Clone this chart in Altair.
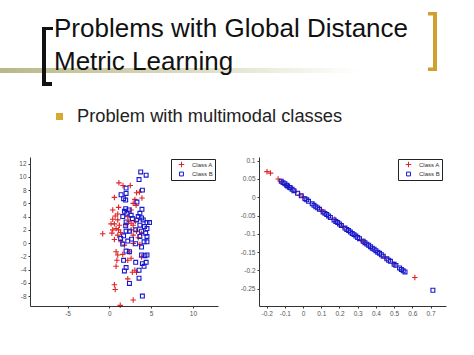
import altair as alt
import pandas as pd

# ---------------- data ----------------
classes = ["Class A", "Class B"]

left_xA = [1.14, 1.63, 2.5, 0.6, 3.25, 3.6, 3.05, 3.9, 1.1, 0.4, 2.85, 3.2, 1.0, 0.7, 0.4, 0.2, 0.6, 1.2, 0.8, 1.1,
           -0.8, 0.3, 0.6, 1.0, 1.4, 2.85, 2.6, 3.1, 2.0, 2.6, 3.25, 2.85, 3.45, 2.85, 0.8, 1.6, 1.0, 2.4, 2.2, 2.6,
           0.9, 3.05, 3.25, 2.75, 0.8, 2.2, 0.6, 0.7, 2.85, 1.3, 3.85, 3.65, 1.8, 3.85, 0.4, 2.2, 2.6, 2.35, 1.0, 1.35]
left_yA = [9.1, 8.7, 8.7, 6.9, 7.6, 7.7, 6.6, 6.8, 5.4, 5.0, 6.0, 5.7, 4.4, 4.1, 3.6, 2.9, 2.9, 2.7, 2.2, 2.0,
           1.4, 1.5, 0.55, 1.2, 0.2, 2.7, 3.0, 3.3, 2.8, 2.0, 1.8, 1.2, 0.8, -0.05, -1.3, -1.7, -1.8, -1.3, -2.6, -2.3,
           -2.6, -4.1, -4.4, -4.4, -3.5, -5.4, -6.3, -7.0, -8.6, -9.4, -2.1, -0.2, -0.3, 1.5, 2.0, 4.0, 5.0, 3.3, 3.5, 1.6]
left_xB = [3.75, 4.4, 3.55, 2.0, 2.0, 1.4, 1.7, 1.95, 3.95, 3.3, 3.9, 1.95, 2.35, 1.8, 2.1, 1.6, 2.6, 3.65, 3.25, 3.85,
           4.05, 4.5, 4.8, 2.0, 1.95, 3.65, 4.2, 4.5, 2.0, 2.4, 3.15, 3.85, 1.7, 4.35, 4.5, 3.65, 2.65, 2.2, 3.15, 4.15,
           4.5, 1.6, 3.85, 2.0, 2.4, 3.85, 4.25, 4.5, 1.7, 3.15, 3.95, 4.4, 4.15, 2.0, 1.8, 3.55, 2.4, 3.55, 3.95, 1.35,
           2.75, 3.45]
left_yB = [10.75, 10.25, 9.6, 8.3, 7.5, 7.3, 6.7, 6.5, 8.0, 6.2, 5.1, 5.2, 5.0, 4.8, 4.5, 4.0, 4.2, 4.5, 3.5, 3.8,
           3.5, 3.1, 3.1, 3.2, 2.6, 2.7, 2.5, 2.2, 1.8, 1.8, 2.0, 1.8, 1.1, 1.5, 1.0, 1.0, 0.6, 0.3, -0.1, 0.2,
           0.2, -0.15, -0.6, -1.2, -1.3, -1.8, -1.9, -1.8, -2.6, -2.9, -3.1, -2.9, -3.5, -3.7, -4.2, -4.1, -6.1, -5.3, -8.0, 0.7,
           3.7, 4.0]

right_xA = [-0.198, -0.179, -0.137, -0.119, -0.09, -0.04, -0.018, 0.0, 0.1, 0.105, 0.174, 0.2, 0.22, 0.32, 0.33,
            0.45, 0.5, 0.614]
right_yA = [0.07, 0.066, 0.05, 0.043, 0.033, 0.015, 0.006, 0.001, -0.035, -0.039, -0.06, -0.073, -0.08, -0.117, -0.12,
            -0.164, -0.182, -0.219]
right_xB = [-0.12, -0.11, -0.1, -0.09, -0.085, -0.075, -0.07, -0.06, -0.05, -0.03, -0.01, 0.01, 0.02, 0.03, 0.05,
            0.06, 0.07, 0.08, 0.09, 0.11, 0.12, 0.13, 0.14, 0.15, 0.17, 0.18, 0.19, 0.2, 0.21, 0.23, 0.24, 0.25,
            0.26, 0.27, 0.28, 0.29, 0.3, 0.31, 0.33, 0.34, 0.35, 0.36, 0.37, 0.38, 0.39, 0.4, 0.41, 0.42, 0.43,
            0.44, 0.46, 0.47, 0.48, 0.5, 0.51, 0.53, 0.54, 0.55, 0.56, 0.713]
right_yB = [0.044, 0.040, 0.037, 0.033, 0.031, 0.027, 0.026, 0.022, 0.018, 0.011, 0.004, -0.004, -0.007, -0.011,
            -0.018, -0.022, -0.026, -0.029, -0.033, -0.040, -0.044, -0.047, -0.051, -0.055, -0.062, -0.066, -0.069,
            -0.073, -0.077, -0.084, -0.088, -0.091, -0.095, -0.099, -0.102, -0.106, -0.110, -0.113, -0.120, -0.124,
            -0.128, -0.131, -0.135, -0.139, -0.142, -0.146, -0.150, -0.153, -0.157, -0.161, -0.168, -0.172, -0.175,
            -0.183, -0.186, -0.193, -0.197, -0.201, -0.204, -0.254]

left_xticks = [-5, 0, 5, 10]
left_yticks = [-8, -6, -4, -2, 0, 2, 4, 6, 8, 10, 12]
right_xticks = [-0.2, -0.1, 0, 0.1, 0.2, 0.3, 0.4, 0.5, 0.6, 0.7]
right_yticks = [-0.25, -0.2, -0.15, -0.1, -0.05, 0, 0.05, 0.1]

title_lines = ["Problems with Global Distance", "Metric Learning"]
bullet_text = "Problem with multimodal classes"

# ---------------- helpers ----------------
OX, OY = 30, 157  # left plot origin on the page
FONT = "Liberation Sans"
dummy = pd.DataFrame({"d": [0]})
GOLD = "#CFA02E"


def box(x1, x2, y1, y2, color):
    return alt.Chart(dummy).mark_rect(color=color).encode(
        x=alt.value(x1 - OX), x2=alt.value(x2 - OX),
        y=alt.value(y1 - OY), y2=alt.value(y2 - OY))


def label(x, y, txt, size, color):
    return alt.Chart(dummy).mark_text(
        align="left", baseline="alphabetic", font=FONT, fontSize=size, color=color
    ).encode(x=alt.value(x - OX), y=alt.value(y - OY), text=alt.value(txt))


def frame(xs_a, ys_a, xs_b, ys_b):
    return pd.DataFrame({
        "x": xs_a + xs_b,
        "y": ys_a + ys_b,
        "cls": [classes[0]] * len(xs_a) + [classes[1]] * len(xs_b),
    })


PLUS = "M-1,0L1,0M0,-1L0,1"


def make_legend(lx, ly):
    return alt.Legend(title=None, orient="none", legendX=lx, legendY=ly, fillColor="white",
                      strokeColor="#222", padding=2, labelFontSize=6, labelFont=FONT, labelColor="#333",
                      symbolSize=14, symbolStrokeWidth=1, rowPadding=0, labelOffset=7, symbolOffset=5,
                      cornerRadius=0, labelLimit=60)


ax_style = dict(domainColor="#333", tickColor="#333", labelColor="#555", labelFontSize=6.5, labelFont=FONT,
                tickSize=2, labelPadding=2, grid=False, title=None, domainWidth=1, zindex=2)


def points(df, xdom, ydom, xt, yt, lg):
    return alt.Chart(df).mark_point(filled=False, strokeWidth=1.1, opacity=1).encode(
        x=alt.X("x:Q", scale=alt.Scale(domain=xdom, nice=False, zero=False),
                axis=alt.Axis(values=xt, labelExpr="'' + datum.value", **ax_style)),
        y=alt.Y("y:Q", scale=alt.Scale(domain=ydom, nice=False, zero=False),
                axis=alt.Axis(values=yt, labelExpr="'' + datum.value", **ax_style)),
        color=alt.Color("cls:N", scale=alt.Scale(domain=classes, range=["#E02424", "#1818CC"]), legend=lg),
        shape=alt.Shape("cls:N", scale=alt.Scale(domain=classes, range=[PLUS, "square"]), legend=lg),
        size=alt.Size("cls:N", scale=alt.Scale(domain=classes, range=[30, 15]), legend=None),
    )


# ---------------- header (drawn in the left panel's coordinates) ----------------
grad = alt.LinearGradient(
    gradient="linear",
    stops=[alt.GradientStop(color="#B8B88A", offset=0),
           alt.GradientStop(color="#D6D6B8", offset=0.45),
           alt.GradientStop(color="#FFFFFF", offset=1)],
    x1=0, x2=1, y1=0, y2=0)

background = box(0, 474, 0, 355, "white")
bar = alt.Chart(dummy).mark_rect(color=grad).encode(
    x=alt.value(0 - OX), x2=alt.value(360 - OX), y=alt.value(68 - OY), y2=alt.value(73 - OY))

left_bracket = [box(42, 46, 27, 86, "#111"), box(42, 53, 27, 30, "#111"), box(42, 52, 82, 86, "#111")]
right_bracket = [box(433, 437, 12, 71, GOLD), box(428, 437, 12, 15.5, GOLD), box(428, 437, 67.5, 71, GOLD)]

texts = [label(54, 37, title_lines[0], 26, "#111"), label(54, 70, title_lines[1], 26, "#111"),
         box(56, 63, 113, 120, "#D9A830"), label(77, 122, bullet_text, 18.3, "#222")]

left_pts = points(frame(left_xA, left_yA, left_xB, left_yB), [-9.5, 13], [-9.5, 13],
                  left_xticks, left_yticks, make_legend(141, 2))
left = alt.layer(background, bar, *left_bracket, *right_bracket, *texts, left_pts).properties(
    width=188, height=149)

right = points(frame(right_xA, right_yA, right_xB, right_yB), [-0.242, 0.785], [-0.297, 0.11],
               right_xticks, right_yticks, make_legend(139, 2)).properties(width=187, height=149)

chart = alt.hconcat(left, right, spacing=41, bounds="flush").resolve_scale(
    color="independent", shape="independent", size="independent"
).properties(padding=0, background="white").configure_view(stroke=None)

chart.save("out.html", embed_options={"renderer": "svg", "actions": False})
